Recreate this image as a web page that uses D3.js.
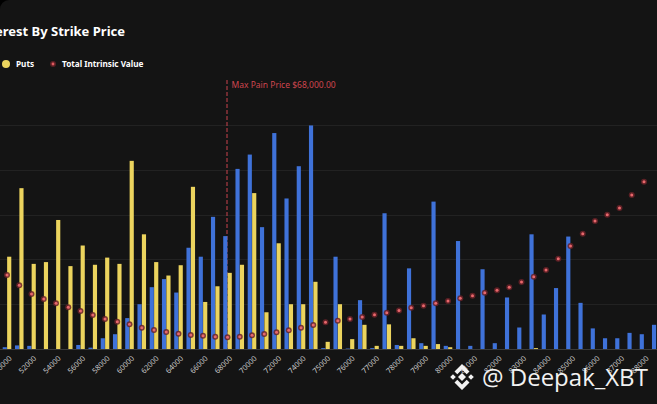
<html>
<head>
<meta charset="utf-8"/>
<script src="https://d3js.org/d3.v7.min.js"></script>
<style type="text/css">
body {
  margin: 0;
  overflow: hidden;
  background: #000;
  font-family: "Noto Sans", "Open Sans", sans-serif;
}
</style>
</head>
<body>
<div id="v"></div>
<script type="text/javascript">
// strikes: 1000 apart up to 74000, 500 apart above
var strikes = [50000, 51000, 52000, 53000, 54000, 55000, 56000, 57000, 58000, 59000,
  60000, 61000, 62000, 63000, 64000, 65000, 66000, 67000, 68000, 69000,
  70000, 71000, 72000, 73000, 74000, 74500, 75000, 75500, 76000, 76500,
  77000, 77500, 78000, 78500, 79000, 79500, 80000, 80500, 81000, 81500,
  82000, 82500, 83000, 83500, 84000, 84500, 85000, 85500, 86000, 86500,
  87000, 87500, 88000, 88500];

// open interest (BTC)
var calls = [20, 40, 35, 0, 0, 0, 45, 15, 120, 165,
  345, 500, 690, 780, 630, 1130, 1030, 1475, 1260, 2010,
  2170, 1360, 2410, 1680, 2040, 2495, 10, 1030, 5, 545,
  10, 1515, 45, 900, 65, 1645, 35, 1205, 35, 890,
  65, 575, 240, 1280, 385, 680, 1255, 515, 230, 120,
  120, 180, 165, 270];

var puts = [1030, 1795, 950, 970, 1440, 925, 1155, 940, 1020, 950,
  2100, 1280, 970, 820, 935, 1810, 525, 700, 850, 940,
  1740, 410, 1180, 500, 500, 750, 80, 500, 110, 270,
  35, 275, 35, 120, 35, 55, 20, 0, 0, 0,
  0, 0, 0, 10, 0, 0, 0, 0, 0, 0,
  0, 0, 0, 0];

// total intrinsic value (M USD)
var intrinsic = [82.6, 71.1, 61.4, 55.8, 51.0, 46.5, 42.4, 37.9, 33.5, 30.5,
  27.6, 23.8, 21.2, 19.0, 17.1, 15.6, 14.8, 13.6, 13.1, 13.7,
  15.3, 16.7, 18.6, 20.9, 23.8, 26.8, 29.8, 31.6, 33.5, 35.7,
  38.3, 40.5, 43.0, 46.1, 48.3, 51.0, 53.6, 56.6, 59.5, 62.8,
  65.5, 68.9, 74.8, 80.7, 88.2, 100.8, 114.9, 128.7, 142.8, 149.9,
  157.4, 171.9, 186.7, null];

var oiTicks = [0, 500, 1000, 1500, 2000, 2500];
var maxPain = 68000;

var width = 657, height = 404;
var plotTop = 125, plotBottom = 349;

var svg = d3.select("#v").append("svg")
  .attr("width", width)
  .attr("height", height);

// card background
svg.append("rect")
  .attr("x", 0).attr("y", 0)
  .attr("width", width + 20).attr("height", height + 20)
  .attr("rx", 9)
  .attr("fill", "#141414");

var x = d3.scaleBand()
  .domain(strikes)
  .range([0.875, 662.375])
  .paddingInner(0.3)
  .paddingOuter(0.15);

var xInner = d3.scaleBand()
  .domain(["calls", "puts"])
  .range([0, x.bandwidth()])
  .paddingInner(0.06);

var y = d3.scaleLinear().domain([0, 2500]).range([plotBottom, plotTop]);
var yIv = d3.scaleLinear().domain([0, 250]).range([plotBottom, plotTop]);

// grid
svg.append("g")
  .selectAll("line")
  .data(oiTicks).enter()
  .append("line")
  .attr("x1", 0).attr("x2", width)
  .attr("y1", function(d) { return Math.round(y(d)) + 0.5; })
  .attr("y2", function(d) { return Math.round(y(d)) + 0.5; })
  .attr("stroke", function(d) { return d == 0 ? "#3a3a3a" : "#222"; })
  .attr("stroke-width", 1);

// title
svg.append("text")
  .attr("x", 125).attr("y", 36)
  .attr("text-anchor", "end")
  .attr("fill", "#fff")
  .style("font-size", "13px")
  .style("font-weight", "bold")
  .text("Open Interest By Strike Price");

// legend
var legend = svg.append("g").style("font-weight", "bold").style("font-size", "8.2px");
legend.append("circle").attr("cx", -42).attr("cy", 64).attr("r", 4).attr("fill", "#3f72d9");
legend.append("text").attr("x", -34).attr("y", 67).attr("fill", "#fff").text("Calls");
legend.append("circle").attr("cx", 6).attr("cy", 64).attr("r", 4).attr("fill", "#ecd45e");
legend.append("text").attr("x", 16).attr("y", 67).attr("fill", "#fff").text("Puts");
legend.append("circle").attr("cx", 53).attr("cy", 64).attr("r", 3).attr("fill", "#5a1f24");
legend.append("circle").attr("cx", 53).attr("cy", 64).attr("r", 1.4).attr("fill", "#e05a60");
legend.append("text").attr("x", 62).attr("y", 67).attr("fill", "#fff").text("Total Intrinsic Value");

// max pain marker
var mpX = x(maxPain) + x.bandwidth() / 2 - 0.5;
svg.append("line")
  .attr("x1", mpX).attr("x2", mpX)
  .attr("y1", 80).attr("y2", plotBottom)
  .attr("stroke", "#c9424c")
  .attr("stroke-width", 1)
  .attr("stroke-dasharray", "4,2");
svg.append("text")
  .attr("x", mpX + 4.5).attr("y", 88)
  .attr("fill", "#cf464f")
  .style("font-size", "8.5px")
  .text("Max Pain Price $" + d3.format(",.2f")(maxPain));

// bars
var groups = svg.append("g")
  .selectAll(".strike")
  .data(strikes).enter()
  .append("g")
  .attr("class", "strike")
  .attr("transform", function(d) { return "translate(" + x(d) + ",0)"; });

groups.append("rect")
  .attr("x", xInner("calls"))
  .attr("width", xInner.bandwidth())
  .attr("y", function(d, i) { return y(calls[i]); })
  .attr("height", function(d, i) { return plotBottom - y(calls[i]); })
  .attr("fill", "#3f72d9");

groups.append("rect")
  .attr("x", xInner("puts"))
  .attr("width", xInner.bandwidth())
  .attr("y", function(d, i) { return y(puts[i]); })
  .attr("height", function(d, i) { return plotBottom - y(puts[i]); })
  .attr("fill", "#ecd45e");

// intrinsic value dots
var dots = svg.append("g")
  .selectAll(".iv")
  .data(strikes.map(function(s, i) { return {s: s, v: intrinsic[i]}; })
    .filter(function(d) { return d.v != null; }))
  .enter().append("g")
  .attr("class", "iv")
  .attr("transform", function(d) {
    return "translate(" + (x(d.s) + x.bandwidth() / 2) + "," + yIv(d.v) + ")";
  });
dots.append("circle").attr("r", 3).attr("fill", "#6a2228").attr("opacity", 0.85);
dots.append("circle").attr("r", 1.5).attr("fill", "#e8676c");

// x axis labels
var xAxis = d3.axisBottom(x)
  .tickValues(strikes.filter(function(d, i) { return i % 2 == 0; }))
  .tickSize(0)
  .tickFormat(function(d) { return d; });
var ax = svg.append("g")
  .attr("transform", "translate(0," + plotBottom + ")")
  .call(xAxis);
ax.select(".domain").remove();
ax.selectAll("text")
  .attr("fill", "#c8c8c8")
  .style("font-size", "7.5px")
  .style("font-family", "Noto Sans")
  .attr("text-anchor", "end")
  .attr("x", 0).attr("y", 0)
  .attr("dx", 0)
  .attr("dy", "0.35em")
  .attr("transform", "translate(3.5,8) rotate(-45)");

// watermark
var wm = svg.append("g").attr("transform", "translate(462,377)").attr("fill", "#f2f2f2");
wm.append("path").attr("d", "M0,-4L4,0L0,4L-4,0Z");
wm.append("path").attr("d", "M-9,-2.8L-6.2,0L-9,2.8L-11.8,0Z");
wm.append("path").attr("d", "M9,-2.8L11.8,0L9,2.8L6.2,0Z");
wm.append("path").attr("d", "M0,-13L7.5,-5.5L4.7,-2.7L0,-7.4L-4.7,-2.7L-7.5,-5.5Z");
wm.append("path").attr("d", "M0,13L7.5,5.5L4.7,2.7L0,7.4L-4.7,2.7L-7.5,5.5Z");
svg.append("text")
  .attr("x", 482).attr("y", 386)
  .attr("fill", "#f2f2f2")
  .style("font-family", "Open Sans")
  .style("font-size", "24px")
  .text("@ Deepak_XBT");
</script>
</body>
</html>
